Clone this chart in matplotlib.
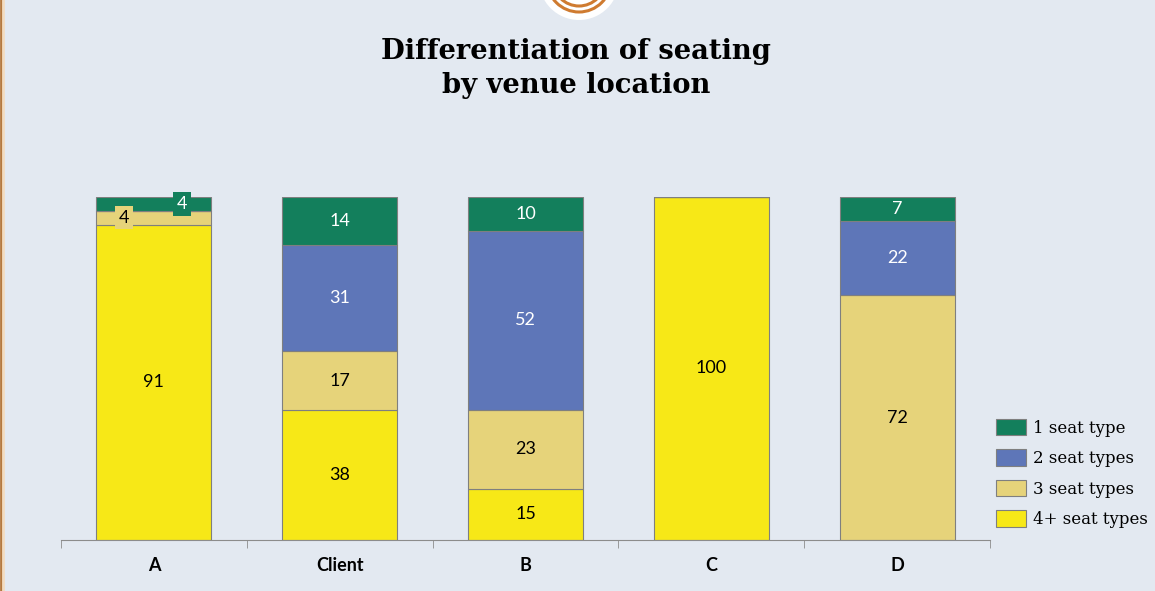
import numpy as np
import matplotlib
matplotlib.use('Agg')
import matplotlib.pyplot as plt
from matplotlib.patches import Patch, Circle

venues = ['A', 'Client', 'B', 'C', 'D']
seat_4plus = [91, 38, 15, 100, 0]
seat_3 = [4, 17, 23, 0, 72]
seat_2 = [0, 31, 52, 0, 22]
seat_1 = [4, 14, 10, 0, 7]
series_names = ['4+ seat types', '3 seat types', '2 seat types', '1 seat type']

colors = ['#F7E817', '#E6D37A', '#5E76B8', '#137F5C']
text_colors = ['black', 'black', 'white', 'white']
bg = '#E3E9F1'

raw = np.array([seat_4plus, seat_3, seat_2, seat_1], dtype=float)
pct = raw / raw.sum(axis=0) * 100  # 100% stacked

fig = plt.figure(figsize=(11.55, 5.91), dpi=100, facecolor=bg)
ax = fig.add_axes([61/1155, 1-540/591, 929/1155, 343/591])
ax.set_facecolor(bg)

x = np.arange(len(venues))
bottom = np.zeros(len(venues))
for i in range(4):
    ax.bar(x, pct[i], 0.62, bottom=bottom, color=colors[i],
           edgecolor='#7F7F7F', linewidth=0.8, label=series_names[i], zorder=2)
    for j in range(len(venues)):
        if raw[i, j] == 0:
            continue
        cy = bottom[j] + pct[i, j] / 2
        cx = x[j]
        box = None
        if venues[j] == 'A' and pct[i, j] < 8:
            # small segments: label shifted sideways with a coloured box
            cx = x[j] - 0.16 if i == 1 else x[j] + 0.15
            box = dict(boxstyle='square,pad=0.2', fc=colors[i], ec='none')
        ax.text(cx, cy, '%d' % raw[i, j], ha='center', va='center',
                fontsize=13, family='Lato', color=text_colors[i], bbox=box, zorder=3)
    bottom += pct[i]

ax.set_xlim(-0.5, len(venues) - 0.5)
ax.set_ylim(0, 100)
for s in ['left', 'right', 'top']:
    ax.spines[s].set_visible(False)
ax.spines['bottom'].set_color('#8C8C8C')
ax.set_yticks([])
ax.set_xticks(x)
ax.set_xticklabels(venues, fontsize=13, fontweight='bold', family='Lato')
ax.tick_params(axis='x', which='major', length=0, pad=12)
ax.set_xticks(np.arange(len(venues) + 1) - 0.5, minor=True)
ax.tick_params(axis='x', which='minor', length=6, color='#8C8C8C', direction='out')

handles = [Patch(fc=colors[i], ec='#7F7F7F', lw=0.8) for i in range(4)][::-1]
fig.legend(handles, series_names[::-1], loc='upper left',
           bbox_to_anchor=(981/1155, 1-404/591), frameon=False,
           prop={'family': 'DejaVu Serif', 'size': 12},
           handlelength=1.8, handleheight=1.14, handletextpad=0.4, labelspacing=0.75)

fig.text(576/1155, 1-68.5/591, 'Differentiation of seating\nby venue location',
         ha='center', va='center', fontsize=19.7, fontweight='bold',
         family='DejaVu Serif', linespacing=1.35)

# logo at top centre
logo_ax = fig.add_axes([0, 0, 1, 1], facecolor='none')
logo_ax.set_xlim(0, 1155)
logo_ax.set_ylim(591, 0)
logo_ax.axis('off')
logo_ax.add_patch(Circle((579, -20), 40, fc='white', ec='none'))
for r in [32, 26]:
    logo_ax.add_patch(Circle((579, -20), r, fc='none', ec='#CF7B30', lw=2.2))
logo_ax.plot([1, 1], [0, 591], color='#B5793F', lw=2)
logo_ax.plot([3, 3], [0, 591], color='#F3DCC0', lw=2)

fig.savefig('out.png', dpi=100, facecolor=bg)
